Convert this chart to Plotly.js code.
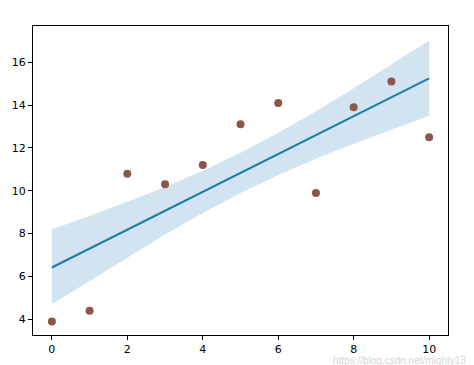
<!DOCTYPE html>
<html>
<head>
<meta charset="utf-8">
<script src="https://cdn.plot.ly/plotly-3.0.1.min.js"></script>
<style>html,body{margin:0;padding:0;background:#fff;}#chart{width:474px;height:365px;}</style>
</head>
<body>
<div id="chart"></div>
<script>
// Data
const xs = [0, 1, 2, 3, 4, 5, 6, 7, 8, 9, 10];
const ys = [3.9, 4.4, 10.8, 10.3, 11.2, 13.1, 14.1, 9.9, 13.9, 15.1, 12.5];
const fitY = [6.42, 7.30, 8.19, 9.07, 9.95, 10.84, 11.72, 12.60, 13.49, 14.37, 15.25];
const bandUpper = [8.2, 8.82, 9.49, 10.18, 10.94, 11.78, 12.71, 13.71, 14.79, 15.89, 17.01];
const bandLower = [4.7, 5.78, 6.89, 7.96, 8.96, 9.90, 10.73, 11.49, 12.19, 12.85, 13.5];
const xTicks = [0, 2, 4, 6, 8, 10];
const yTicks = [4, 6, 8, 10, 12, 14, 16];
const watermark = "https://blog.csdn.net/mighty13";

const traces = [
  {x: xs, y: bandLower, mode: 'lines', line: {width: 0, color: 'rgba(0,0,0,0)'}, hoverinfo: 'skip', showlegend: false},
  {x: xs, y: bandUpper, mode: 'lines', line: {width: 0, color: 'rgba(0,0,0,0)'}, fill: 'tonexty', fillcolor: 'rgba(31,119,180,0.2)', hoverinfo: 'skip', showlegend: false},
  {x: xs, y: fitY, mode: 'lines', line: {color: '#1f77b4', width: 2}, showlegend: false},
  {x: xs, y: ys, mode: 'markers', marker: {color: '#8c564b', size: 8}, showlegend: false}
];

const axisCommon = {
  showgrid: false, zeroline: false, showline: true, mirror: true,
  linecolor: '#000', linewidth: 1, ticks: 'outside', ticklen: 4, tickwidth: 1, tickcolor: '#000',
  tickfont: {family: 'DejaVu Sans', size: 11, color: '#000'}
};

const layout = {
  width: 474, height: 365,
  margin: {l: 33, r: 26, t: 26, b: 30},
  paper_bgcolor: '#fff', plot_bgcolor: '#fff',
  xaxis: Object.assign({}, axisCommon, {range: [-0.5, 10.5], tickvals: xTicks, ticktext: xTicks.map(String)}),
  yaxis: Object.assign({}, axisCommon, {range: [3.27, 17.69], tickvals: yTicks, ticktext: yTicks.map(String)}),
  annotations: [{
    text: watermark, xref: 'paper', yref: 'paper', x: 1.045, y: -0.082, xanchor: 'right', yanchor: 'middle',
    showarrow: false, borderpad: 0, font: {family: 'Liberation Sans', size: 10, color: 'rgba(200,200,200,0.8)'}
  }]
};

Plotly.newPlot('chart', traces, layout, {staticPlot: true, displayModeBar: false});
</script>
</body>
</html>
